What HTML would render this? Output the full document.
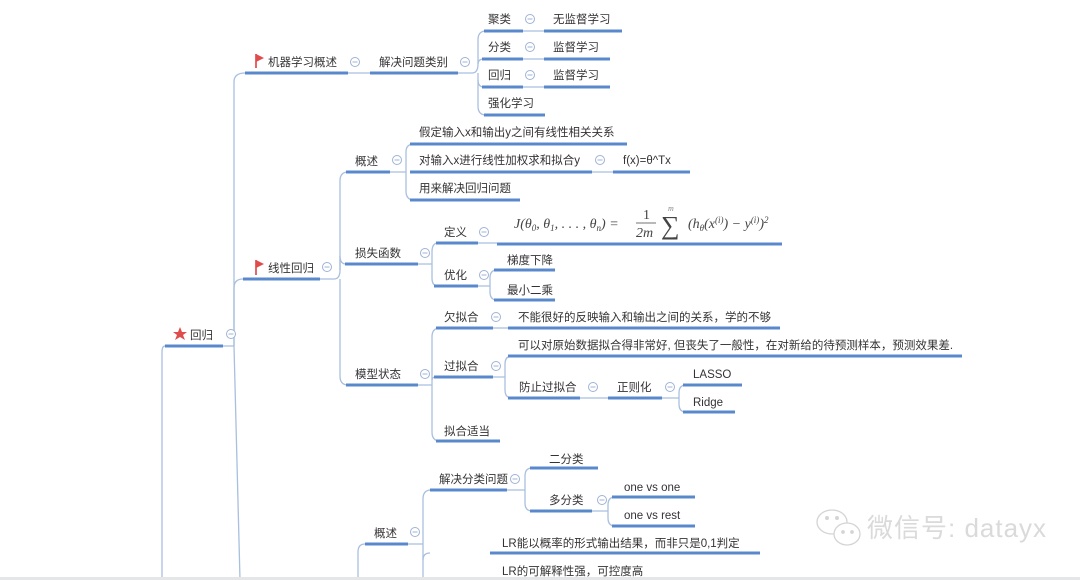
<!DOCTYPE html>
<html><head><meta charset="utf-8"><style>
html,body{margin:0;padding:0;background:#fff;width:1080px;height:580px;overflow:hidden}
svg text{font-family:"Liberation Sans","Noto Sans CJK SC",sans-serif;font-size:11.5px;fill:#333}
.u{stroke:#5a88cc;stroke-width:3;fill:none}
.c{stroke:#a9bfe0;stroke-width:1.3;fill:none}
.k{fill:#fff;stroke:#9fb3d6;stroke-width:1}
.m{stroke:#9fb3d6;stroke-width:1}
.f{font-family:"Liberation Serif",serif;font-style:italic;font-size:14px;fill:#444}
</style></head><body>
<svg width="1080" height="580" xmlns="http://www.w3.org/2000/svg">
<defs>
<g id="col"><circle cx="0" cy="0" r="4.5" class="k"/><line x1="-2.5" y1="0" x2="2.5" y2="0" class="m"/></g>
</defs>
<!-- trunk lines -->
<path class="c" d="M165 346 Q162 346 162 352 L162 580"/>
<path class="c" d="M223 346 L234 346"/>
<path class="c" d="M234 346 L234 82 Q234 73 245 73"/>
<path class="c" d="M234 346 L234 288 Q234 279 243 279"/>
<path class="c" d="M234 346 L240 580"/>
<!-- 回归 -->
<path class="u" d="M165 346 L223 346"/>
<polygon points="180,327 182,332 187,332 183,335 185,340 180,337 175,340 177,335 173,332 178,332" fill="#e04b4b"/>
<text x="190" y="339">回归</text>
<use href="#col" x="231" y="334"/>
<!-- 机器学习概述 -->
<path class="u" d="M245 73 L348 73"/>
<path d="M256 54 L256 68" stroke="#d33" stroke-width="1.5"/><polygon points="256,54 264,58 256,62" fill="#e04b4b"/>
<text x="268" y="66">机器学习概述</text>
<use href="#col" x="355" y="62"/>
<path class="c" d="M348 73 L370 73"/>
<path class="u" d="M370 73 L458 73"/>
<text x="379" y="66">解决问题类别</text>
<use href="#col" x="465" y="62"/>
<path class="c" d="M458 73 L472 73 Q478 73 478 64 L478 40 Q478 31 486 31"/>
<path class="c" d="M478 64 Q478 59 484 59"/>
<path class="c" d="M478 73 L478 80 Q478 87 484 87"/>
<path class="c" d="M478 80 L478 106 Q478 115 486 115"/>
<path class="u" d="M484 31 L523 31"/><text x="488" y="23">聚类</text><use href="#col" x="530" y="19"/>
<path class="c" d="M523 31 L544 31"/><path class="u" d="M544 31 L622 31"/><text x="553" y="23">无监督学习</text>
<path class="u" d="M482 59 L523 59"/><text x="488" y="51">分类</text><use href="#col" x="530" y="47"/>
<path class="c" d="M523 59 L544 59"/><path class="u" d="M544 59 L610 59"/><text x="553" y="51">监督学习</text>
<path class="u" d="M482 87 L523 87"/><text x="488" y="79">回归</text><use href="#col" x="530" y="75"/>
<path class="c" d="M523 87 L544 87"/><path class="u" d="M544 87 L610 87"/><text x="553" y="79">监督学习</text>
<path class="u" d="M484 115 L545 115"/><text x="488" y="107">强化学习</text>
<!-- 线性回归 -->
<path class="u" d="M243 279 L320 279"/>
<path d="M256 260 L256 275" stroke="#d33" stroke-width="1.5"/><polygon points="256,260 264,264 256,268" fill="#e04b4b"/>
<text x="268" y="272">线性回归</text>
<use href="#col" x="327" y="267"/>
<path class="c" d="M320 279 L334 279"/>
<path class="c" d="M334 279 Q340 279 340 270 L340 181 Q340 172 348 172"/>
<path class="c" d="M340 270 L340 256 Q340 264 346 264"/>
<path class="c" d="M340 279 L340 376 Q340 385 348 385"/>
<!-- 概述 -->
<path class="u" d="M346 172 L390 172"/><text x="355" y="165">概述</text><use href="#col" x="397" y="160"/>
<path class="c" d="M390 172 L406 172 M406 172 L406 152 Q406 144 414 144 M406 172 L406 191 Q406 200 414 200"/>
<path class="u" d="M410 144 L627 144"/><text x="419" y="136">假定输入x和输出y之间有线性相关关系</text>
<path class="u" d="M410 172 L592 172"/><text x="419" y="164">对输入x进行线性加权求和拟合y</text><use href="#col" x="600" y="160"/>
<path class="c" d="M592 172 L613 172"/><path class="u" d="M613 172 L690 172"/><text x="623" y="164">f(x)=θ^Tx</text>
<path class="u" d="M410 200 L520 200"/><text x="419" y="192">用来解决回归问题</text>
<!-- 损失函数 -->
<path class="u" d="M345 264 L418 264"/><text x="355" y="257">损失函数</text><use href="#col" x="425" y="253"/>
<path class="c" d="M418 264 L432 264 M432 264 L432 252 Q432 243 438 243 M432 264 L432 278 Q432 286 438 286"/>
<path class="u" d="M436 243 L478 243"/><text x="444" y="236">定义</text><use href="#col" x="484" y="232"/>
<path class="c" d="M478 243 L497 243"/><path class="u" d="M497 244 L782 244"/>
<text class="f" x="514" y="228">J(θ<tspan font-size="9" dy="3">0</tspan><tspan dy="-3">, θ</tspan><tspan font-size="9" dy="3">1</tspan><tspan dy="-3">, . . . , θ</tspan><tspan font-size="9" dy="3">n</tspan><tspan dy="-3">)  =</tspan></text>
<text class="f" x="643" y="219" style="font-style:normal">1</text>
<line x1="636" y1="223" x2="656" y2="223" stroke="#444" stroke-width="0.8"/>
<text class="f" x="636" y="237">2m</text>
<text x="661" y="234" style="font-family:'Liberation Serif',serif;font-size:26px;fill:#444">∑</text>
<text x="668" y="211" style="font-family:'Liberation Serif',serif;font-size:8px;fill:#888;font-style:italic">m</text>
<text class="f" x="688" y="228">(h<tspan font-size="9" dy="3">θ</tspan><tspan dy="-3">(x</tspan><tspan font-size="9" dy="-5">(i)</tspan><tspan dy="5">) − y</tspan><tspan font-size="9" dy="-5">(i)</tspan><tspan dy="5">)</tspan><tspan font-size="9" dy="-5">2</tspan></text>
<path class="u" d="M434 286 L478 286"/><text x="444" y="279">优化</text><use href="#col" x="484" y="275"/>
<path class="c" d="M478 286 L490 286 M490 286 L490 278 Q490 270 497 270 M490 286 L490 292 Q490 300 497 300"/>
<path class="u" d="M494 270 L555 270"/><text x="507" y="264">梯度下降</text>
<path class="u" d="M494 300 L555 300"/><text x="507" y="294">最小二乘</text>
<!-- 模型状态 -->
<path class="u" d="M346 385 L418 385"/><text x="355" y="378">模型状态</text><use href="#col" x="425" y="374"/>
<path class="c" d="M418 385 L432 385 M432 385 L432 337 Q432 328 440 328 M432 385 L432 432 Q432 441 440 441"/>
<path class="c" d="M432 380 Q432 377 436 377"/>
<path class="u" d="M436 328 L493 328"/><text x="444" y="321">欠拟合</text><use href="#col" x="496" y="317"/>
<path class="c" d="M493 328 L508 328"/><path class="u" d="M508 328 L780 328"/><text x="518" y="321">不能很好的反映输入和输出之间的关系，学的不够</text>
<path class="u" d="M434 377 L493 377"/><text x="444" y="370">过拟合</text><use href="#col" x="496" y="366"/>
<path class="c" d="M493 377 L505 377 M505 377 L505 364 Q505 356 512 356 M505 377 L505 390 Q505 398 512 398"/>
<path class="u" d="M508 356 L962 356"/><text x="518" y="349">可以对原始数据拟合得非常好, 但丧失了一般性，在对新给的待预测样本，预测效果差.</text>
<path class="u" d="M508 398 L580 398"/><text x="519" y="391">防止过拟合</text><use href="#col" x="593" y="387"/>
<path class="c" d="M580 398 L608 398"/><path class="u" d="M608 398 L662 398"/><text x="617" y="391">正则化</text><use href="#col" x="670" y="387"/>
<path class="c" d="M662 398 L679 398 M679 398 L679 393 Q679 385 686 385 M679 398 L679 404 Q679 412 686 412"/>
<path class="u" d="M683 385 L742 385"/><text x="693" y="378">LASSO</text>
<path class="u" d="M683 412 L735 412"/><text x="693" y="406">Ridge</text>
<path class="u" d="M436 441 L500 441"/><text x="444" y="435">拟合适当</text>
<!-- bottom 概述 -->
<path class="c" d="M365 544 Q358 544 358 552 L358 580"/>
<path class="u" d="M365 544 L408 544"/><text x="374" y="537">概述</text><use href="#col" x="415" y="532"/>
<path class="c" d="M408 544 L423 544 M423 544 L423 499 Q423 490 431 490 M423 544 L423 580"/>
<path class="c" d="M423 560 Q423 553 430 553"/>
<path class="u" d="M430 490 L507 490"/><text x="439" y="483">解决分类问题</text><use href="#col" x="515" y="479"/>
<path class="c" d="M507 490 L525 490 M525 490 L525 476 Q525 468 532 468 M525 490 L525 503 Q525 511 532 511"/>
<path class="u" d="M530 468 L598 468"/><text x="549" y="463">二分类</text>
<path class="u" d="M530 511 L592 511"/><text x="549" y="504">多分类</text><use href="#col" x="602" y="500"/>
<path class="c" d="M592 511 L608 511 M608 511 L608 505 Q608 497 615 497 M608 511 L608 518 Q608 526 615 526"/>
<path class="u" d="M612 497 L695 497"/><text x="624" y="491">one vs one</text>
<path class="u" d="M612 526 L695 526"/><text x="624" y="519">one vs rest</text>
<path class="u" d="M490 553 L760 553"/><text x="502" y="547">LR能以概率的形式输出结果，而非只是0,1判定</text>
<text x="502" y="575">LR的可解释性强，可控度高</text>
<!-- watermark -->
<g fill="none" stroke="#d4d4d4" stroke-width="1.3">
<ellipse cx="832" cy="522" rx="15" ry="12"/>
<ellipse cx="847" cy="534" rx="13" ry="11" fill="#fff"/>
<circle cx="827" cy="518" r="1.3" fill="#d4d4d4"/><circle cx="837" cy="518" r="1.3" fill="#d4d4d4"/>
<circle cx="843" cy="532" r="1.2" fill="#d4d4d4"/><circle cx="852" cy="532" r="1.2" fill="#d4d4d4"/>
</g>
<text x="867" y="537" style="font-size:26px;fill:#dadada;letter-spacing:1px;font-family:'Liberation Sans','Noto Sans CJK SC',sans-serif">微信号: datayx</text>
<rect x="0" y="577" width="1080" height="3" fill="#e4e6e8"/>
</svg>
</body></html>
